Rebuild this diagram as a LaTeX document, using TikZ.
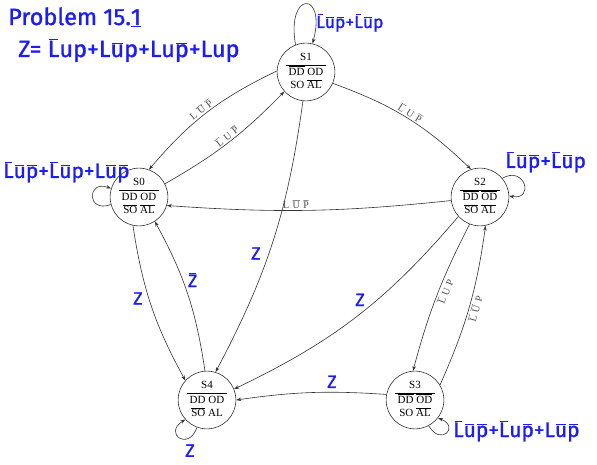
\documentclass[tikz,border=0pt]{standalone}
\usepackage{fontspec}
\setmainfont{Liberation Serif}
\newfontfamily\handfont[FakeBold=1.2]{Fira Sans}
\usetikzlibrary{arrows.meta}
\definecolor{hblue}{RGB}{28,28,245}
\newcommand{\ob}[1]{\ensuremath{\overline{\mbox{#1}}}}
\newcommand{\hb}[1]{\kern1.5pt\ensuremath{\overline{\mbox{\kern-1.5pt#1\kern-1.5pt}}}\kern1.5pt}
\newcommand{\gp}{\hspace{3.5pt}}
\newcommand{\stbox}[3]{{\setlength{\arrayrulewidth}{0.8pt}\begin{tabular}{@{\hspace{3pt}}c@{\hspace{3pt}}}#1\\\hline #2\\#3\end{tabular}}}
\begin{document}
\begin{tikzpicture}[x=1pt,y=1pt,
  st/.style={circle, draw=black!80, line width=0.6pt, minimum size=54pt, inner sep=0pt, font=\fontsize{11}{13.5}\selectfont},
  tr/.style={draw=black!80, line width=0.6pt, -{Stealth[length=5pt,width=3.5pt]}},
  el/.style={font=\fontsize{10}{11}\selectfont, text=black!70, sloped, inner sep=1.5pt},
  hw/.style={text=hblue, font=\handfont\fontsize{21}{22}\selectfont, inner sep=0pt},
  hz/.style={text=hblue, font=\handfont\fontsize{18}{19}\selectfont, inner sep=0pt},
]
\useasboundingbox (0,0) rectangle (597,464);
\fill[white] (0,0) rectangle (597,464);

% states
\node[st] (s1) at (306,392) {\stbox{S1}{\ob{DD} OD}{SO \ob{AL}}};
\node[st] (s0) at (139,267) {\stbox{S0}{DD OD}{\ob{SO} \ob{AL}}};
\node[st] (s2) at (480,267) {\stbox{S2}{\ob{DD} \ob{OD}}{\ob{SO} \ob{AL}}};
\node[st] (s4) at (207,64) {\stbox{S4}{DD OD}{\ob{SO} AL}};
\node[st] (s3) at (415,64) {\stbox{S3}{\ob{DD} \ob{OD}}{SO \ob{AL}}};

% transitions
\draw[tr] (s1.178) to[bend right=12] node[el, above, pos=0.52] {L\gp\ob{U}\gp\ob{P}} (s0.70);
\draw[tr] (s0.27) to[bend right=8] node[el, above, pos=0.52] {\ob{L}\gp U\gp\ob{P}} (s1.222);
\draw[tr] (s1.337) to[bend left=12] node[el, above] {\ob{L}\gp U\gp\ob{P}} (s2.108);
\draw[tr] (s2.187) to[bend left=5] node[el, above, pos=0.55] {L\gp\ob{U}\gp\ob{P}} (s0.343);
\draw[tr] (s1.264) to[bend left=10] node[hz, pos=0.55, left=8pt] {Z} (s4.73);
\draw[tr] (s0.258) to[bend right=10] node[hz, pos=0.45, left=6pt] {Z} (s4.138);
\draw[tr] (s4.94) to[bend right=10] node[hz, pos=0.6, right=5pt] {\hb{Z}} (s0.303);
\draw[tr] (s2.222) to[bend left=12] node[hz, pos=0.45, above left=2pt] {Z} (s4.22);
\draw[tr] (s3.169) to[bend right=6] node[hz, pos=0.35, above=4pt] {Z} (s4.0);
\draw[tr] (s2.249) to[bend right=6] node[el, below, pos=0.45] {\ob{L}\gp U\gp P} (s3.94);
\draw[tr] (s3.31) to[bend right=8] node[el, below, pos=0.5] {\ob{L}\gp\ob{U}\gp P} (s2.281);

% self loops
\draw[tr] (s1.111) .. controls +(100:55) and +(75:55) .. (s1.77);
\draw[tr] (s0.195) .. controls +(200:26) and +(160:26) .. (s0.163);
\draw[tr] (s2.40) .. controls +(30:26) and +(-10:26) .. (s2.2);
\draw[tr] (s4.250) .. controls +(250:26) and +(212:26) .. (s4.222);
\draw[tr] (s3.-62) .. controls +(-60:24) and +(-22:24) .. (s3.-38);

% handwritten annotations
\node[hw, anchor=base west, font=\handfont\fontsize{23.5}{24}\selectfont] (title) at (8,439) {Problem 15.\underline{1}};
\node[hw, anchor=base west, font=\handfont\fontsize{23.5}{24}\selectfont] (zdef) at (18,407) {Z= \hb{L}up+L\hb{u}p+Lu\hb{p}+Lup};
\node[hw, anchor=base west, font=\handfont\fontsize{17.5}{18}\selectfont] (l1) at (316,436) {\hb{L}\hb{u}\hb{p}+\hb{L}\hb{u}p};
\node[hw, anchor=base west] (l0) at (3,286) {\hb{L}\hb{u}\hb{p}+\hb{L}\hb{u}p+L\hb{u}\hb{p}};
\node[hw, anchor=base west] (l2) at (505,296) {\hb{L}\hb{u}\hb{p}+\hb{L}\hb{u}p};
\node[hw, anchor=base west] (l3) at (453,27) {\hb{L}\hb{u}\hb{p}+\hb{L}u\hb{p}+L\hb{u}\hb{p}};
\node[hz, anchor=south] (l4) at (190,7) {Z};
\end{tikzpicture}
\end{document}
